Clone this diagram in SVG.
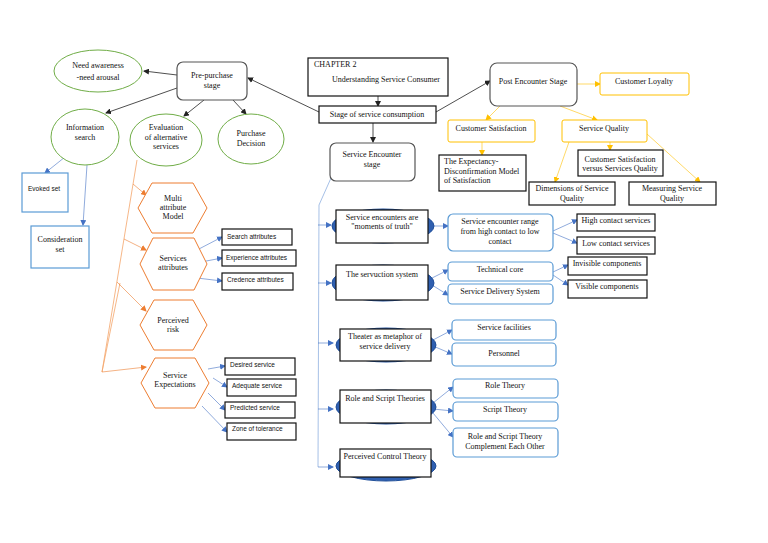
<svg xmlns="http://www.w3.org/2000/svg" width="768" height="543" viewBox="0 0 768 543">
<defs>
<marker id="ak" markerWidth="6" markerHeight="6" refX="5" refY="3" orient="auto" markerUnits="userSpaceOnUse"><path d="M0,0 L6,3 L0,6 z" fill="#222"/></marker>
<marker id="ab" markerWidth="6" markerHeight="6" refX="5" refY="3" orient="auto" markerUnits="userSpaceOnUse"><path d="M0,0 L6,3 L0,6 z" fill="#4472c4"/></marker>
<marker id="ao" markerWidth="6" markerHeight="6" refX="5" refY="3" orient="auto" markerUnits="userSpaceOnUse"><path d="M0,0 L6,3 L0,6 z" fill="#ed7d31"/></marker>
<marker id="ay" markerWidth="6" markerHeight="6" refX="5" refY="3" orient="auto" markerUnits="userSpaceOnUse"><path d="M0,0 L6,3 L0,6 z" fill="#ffc000"/></marker>
</defs>
<style>
text{font-family:"Liberation Serif",serif;font-size:8px;fill:#111;text-anchor:middle}
.s{font-family:"Liberation Sans",sans-serif;font-size:6.5px;text-anchor:start}
.k{fill:#fff;stroke:#111;stroke-width:1.2}
.g{fill:#fff;stroke:#70ad47;stroke-width:1}
.o{fill:#fff;stroke:#ed7d31;stroke-width:1}
.bl{fill:#fff;stroke:#5b9bd5;stroke-width:1.2}
.y{fill:#fff;stroke:#ffc000;stroke-width:1}
.e{fill:#2f5fb0;stroke:#1f4e99}
.ck{stroke:#222;fill:none;stroke-width:0.8;marker-end:url(#ak)}
.cb{stroke:#4472c4;fill:none;stroke-width:0.6;marker-end:url(#ab)}
.cb0{stroke:#8fb0e0;fill:none;stroke-width:0.8}
.co{stroke:#ed7d31;fill:none;stroke-width:0.6;marker-end:url(#ao)}
.co0{stroke:#f4a46a;fill:none;stroke-width:0.8}
.cy{stroke:#ffc000;fill:none;stroke-width:0.6;marker-end:url(#ay)}
</style>
<rect width="768" height="543" fill="#fff"/>
<g id="connectors">
<path class="ck" d="M177,75 L144,71"/>
<path class="ck" d="M177,88 L106,113"/>
<path class="ck" d="M204,100 L184,116"/>
<path class="ck" d="M233,100 L246,114"/>
<path class="ck" d="M319,112 L248,78"/>
<path class="ck" d="M436,112 L490,81"/>
<path class="ck" d="M378,96 L378,106"/>
<path class="ck" d="M373,123 L373,142"/>
<path class="cb" d="M65,157 L45,173"/>
<path class="cb" d="M87,165 L83,225"/>
<path class="co0" d="M137,160 L102,372 L120,283"/>
<path class="co" d="M102,372 L146,367"/>
<path class="co" d="M133,184 L146,195"/>
<path class="co" d="M124,239 L146,250"/>
<path class="co" d="M117,282 L146,311"/>
<path class="cb" d="M197,250 L222,237"/>
<path class="cb" d="M201,262 L222,258"/>
<path class="cb" d="M197,278 L222,281"/>
<path class="cb" d="M208,369 L225,366"/>
<path class="cb" d="M213,378 L227,387"/>
<path class="cb" d="M208,393 L225,410"/>
<path class="cb" d="M202,406 L227,432"/>
<path class="cy" d="M577,84 L600,84"/>
<path class="cy" d="M500,106 L486,120"/>
<path class="cy" d="M560,106 L597,120"/>
<path class="cy" d="M482,142 L482,155"/>
<path class="cy" d="M569,142 L555,182"/>
<path class="cy" d="M610,142 L610,150"/>
<path class="cy" d="M647,134 L700,182"/>
<path class="cb0" d="M331,178 L319,205 L318,467"/>
<path class="cb" d="M318,225 L331,225"/>
<path class="cb" d="M318,283 L331,283"/>
<path class="cb" d="M318,343 L333,343"/>
<path class="cb" d="M318,409 L333,409"/>
<path class="cb" d="M318,467 L333,467"/>
<path class="cb" d="M434,226 L448,226"/>
<path class="cb" d="M553,231 L577,220"/>
<path class="cb" d="M553,233 L577,243"/>
<path class="cb" d="M432,278 L448,270"/>
<path class="cb" d="M432,285 L448,295"/>
<path class="cb" d="M553,272 L568,265"/>
<path class="cb" d="M553,275 L568,285"/>
<path class="cb" d="M433,340 L452,330"/>
<path class="cb" d="M433,346 L452,354"/>
<path class="cb" d="M433,403 L453,387"/>
<path class="cb" d="M433,409 L453,411"/>
<path class="cb" d="M433,413 L453,437"/>
</g>
<g id="pre"><rect class="k" x="177" y="62" width="70" height="38" rx="6" style="stroke:#555"/><text x="212" y="78">Pre-purchase</text><text x="212" y="88">stage</text></g>
<g id="need"><ellipse class="g" cx="98" cy="71" rx="44" ry="21"/><text x="98" y="68">Need awareness</text><text x="98" y="80">-need arousal</text></g>
<g id="info"><ellipse class="g" cx="85" cy="137" rx="34" ry="28"/><text x="85" y="130">Information</text><text x="85" y="140">search</text></g>
<g id="eval"><ellipse class="g" cx="166" cy="140" rx="36" ry="26"/><text x="166" y="130">Evaluation</text><text x="166" y="140">of alternative</text><text x="166" y="149">services</text></g>
<g id="purchase"><ellipse class="g" cx="251" cy="139" rx="33" ry="25"/><text x="251" y="136">Purchase</text><text x="251" y="146">Decision</text></g>
<g id="evoked"><rect class="bl" x="22" y="173" width="46" height="39"/><text class="s" x="28" y="191">Evoked set</text></g>
<g id="consid"><rect class="bl" x="31" y="226" width="58" height="42"/><text x="60" y="242">Consideration</text><text x="60" y="252">set</text></g>
<g id="multi"><polygon class="o" points="152,183 193,183 207,208 193,233 152,233 138,208"/><text x="173" y="201">Multi</text><text x="173" y="210">attribute</text><text x="173" y="219">Model</text></g>
<g id="sattr"><polygon class="o" points="153,238 194,238 207,264 194,290 153,290 140,264"/><text x="173" y="261">Services</text><text x="173" y="270">attributes</text></g>
<g id="risk"><polygon class="o" points="154,300 193,300 207,325 193,350 154,350 140,325"/><text x="173" y="323">Perceived</text><text x="173" y="332">risk</text></g>
<g id="sexp"><polygon class="o" points="155,358 195,358 209,383 195,408 155,408 141,383"/><text x="175" y="378">Service</text><text x="175" y="387">Expectations</text></g>
<g id="search"><rect class="k" x="222" y="229" width="70" height="16"/><text class="s" x="227" y="239">Search attributes</text></g>
<g id="exper"><rect class="k" x="222" y="250" width="74" height="16"/><text class="s" x="226" y="260">Experience attributes</text></g>
<g id="cred"><rect class="k" x="222" y="273" width="71" height="17"/><text class="s" x="227" y="282">Credence attributes</text></g>
<g id="desired"><rect class="k" x="225" y="358" width="70" height="17"/><text class="s" x="230" y="367">Desired service</text></g>
<g id="adequate"><rect class="k" x="227" y="379" width="69" height="17"/><text class="s" x="232" y="388">Adequate service</text></g>
<g id="predicted"><rect class="k" x="225" y="402" width="70" height="16"/><text class="s" x="230" y="410">Predicted service</text></g>
<g id="zone"><rect class="k" x="227" y="423" width="69" height="17"/><text class="s" x="232" y="431">Zone of tolerance</text></g>
<g id="chapter"><rect class="k" x="308" y="58" width="140" height="38"/><text x="314" y="67" style="text-anchor:start">CHAPTER 2</text><text x="386" y="82">Understanding Service Consumer</text></g>
<g id="stage"><rect class="k" x="319" y="106" width="117" height="17"/><text x="377" y="117">Stage of service consumption</text></g>
<g id="senc"><rect class="k" x="330" y="143" width="85" height="38" rx="6" style="stroke:#555"/><text x="372" y="157">Service Encounter</text><text x="372" y="167">stage</text></g>
<g id="post"><rect class="k" x="490" y="63" width="87" height="43" rx="7" style="stroke:#555"/><text x="533" y="84">Post Encounter Stage</text></g>
<g id="loyal"><rect class="y" x="600" y="73" width="89" height="22" rx="2"/><text x="644" y="84">Customer Loyalty</text></g>
<g id="csat"><rect class="y" x="448" y="120" width="87" height="22" rx="2"/><text x="491" y="131">Customer Satisfaction</text></g>
<g id="squal"><rect class="y" x="562" y="120" width="85" height="22" rx="2"/><text x="604" y="131">Service Quality</text></g>
<g id="expect"><rect class="k" x="439" y="155" width="87" height="36"/><text x="444" y="164" style="text-anchor:start">The Expectancy-</text><text x="444" y="174" style="text-anchor:start">Disconfirmation Model</text><text x="444" y="183" style="text-anchor:start">of Satisfaction</text></g>
<g id="csvsq"><rect class="k" x="578" y="150" width="85" height="26"/><text x="620" y="162">Customer Satisfaction</text><text x="620" y="171">versus Services Quality</text></g>
<g id="dims"><rect class="k" x="529" y="182" width="86" height="23"/><text x="572" y="191">Dimensions of Service</text><text x="572" y="201">Quality</text></g>
<g id="measure"><rect class="k" x="629" y="182" width="87" height="23"/><text x="672" y="191">Measuring Service</text><text x="672" y="201">Quality</text></g>
<g id="moments"><ellipse class="e" cx="383" cy="226" rx="51" ry="17"/><rect class="k" x="336" y="210" width="92" height="33"/><text x="382" y="220">Service encounters are</text><text x="382" y="229">"moments of truth"</text></g>
<g id="servuction"><ellipse class="e" cx="383" cy="283" rx="51" ry="18"/><rect class="k" x="336" y="265" width="92" height="35"/><text x="382" y="277">The servuction system</text></g>
<g id="theater"><ellipse class="e" cx="386" cy="345" rx="50" ry="17"/><rect class="k" x="340" y="329" width="91" height="32"/><text x="385" y="339">Theater as metaphor of</text><text x="385" y="349">service delivery</text></g>
<g id="rolescript"><ellipse class="e" cx="386" cy="407" rx="50" ry="17"/><rect class="k" x="340" y="390" width="91" height="33"/><text x="385" y="401">Role and Script Theories</text></g>
<g id="pct"><ellipse class="e" cx="386" cy="466" rx="50" ry="15"/><rect class="k" x="340" y="449" width="91" height="28"/><text x="385" y="459">Perceived Control Theory</text></g>
<g id="range"><rect class="bl" x="448" y="214" width="105" height="37" rx="5"/><text x="500" y="224">Service encounter range</text><text x="500" y="234">from high contact to low</text><text x="500" y="244">contact</text></g>
<g id="high"><rect class="k" x="577" y="214" width="78" height="17"/><text x="616" y="223">High contact services</text></g>
<g id="low"><rect class="k" x="577" y="237" width="78" height="17"/><text x="616" y="246">Low contact services</text></g>
<g id="tech"><rect class="bl" x="448" y="262" width="105" height="19" rx="4"/><text x="500" y="272">Technical core</text></g>
<g id="sds"><rect class="bl" x="448" y="284" width="105" height="20" rx="4"/><text x="500" y="294">Service Delivery System</text></g>
<g id="invis"><rect class="k" x="568" y="257" width="79" height="18"/><text x="607" y="266">Invisible components</text></g>
<g id="vis"><rect class="k" x="568" y="280" width="79" height="18"/><text x="607" y="289">Visible components</text></g>
<g id="facil"><rect class="bl" x="452" y="320" width="104" height="20" rx="4"/><text x="504" y="330">Service facilities</text></g>
<g id="personnel"><rect class="bl" x="452" y="343" width="104" height="23" rx="4"/><text x="504" y="356">Personnel</text></g>
<g id="role"><rect class="bl" x="453" y="379" width="105" height="19" rx="4"/><text x="505" y="388">Role Theory</text></g>
<g id="script"><rect class="bl" x="453" y="402" width="105" height="19" rx="4"/><text x="505" y="412">Script Theory</text></g>
<g id="complement"><rect class="bl" x="453" y="428" width="105" height="29" rx="4"/><text x="505" y="439">Role and Script Theory</text><text x="505" y="449">Complement Each Other</text></g>
</svg>
